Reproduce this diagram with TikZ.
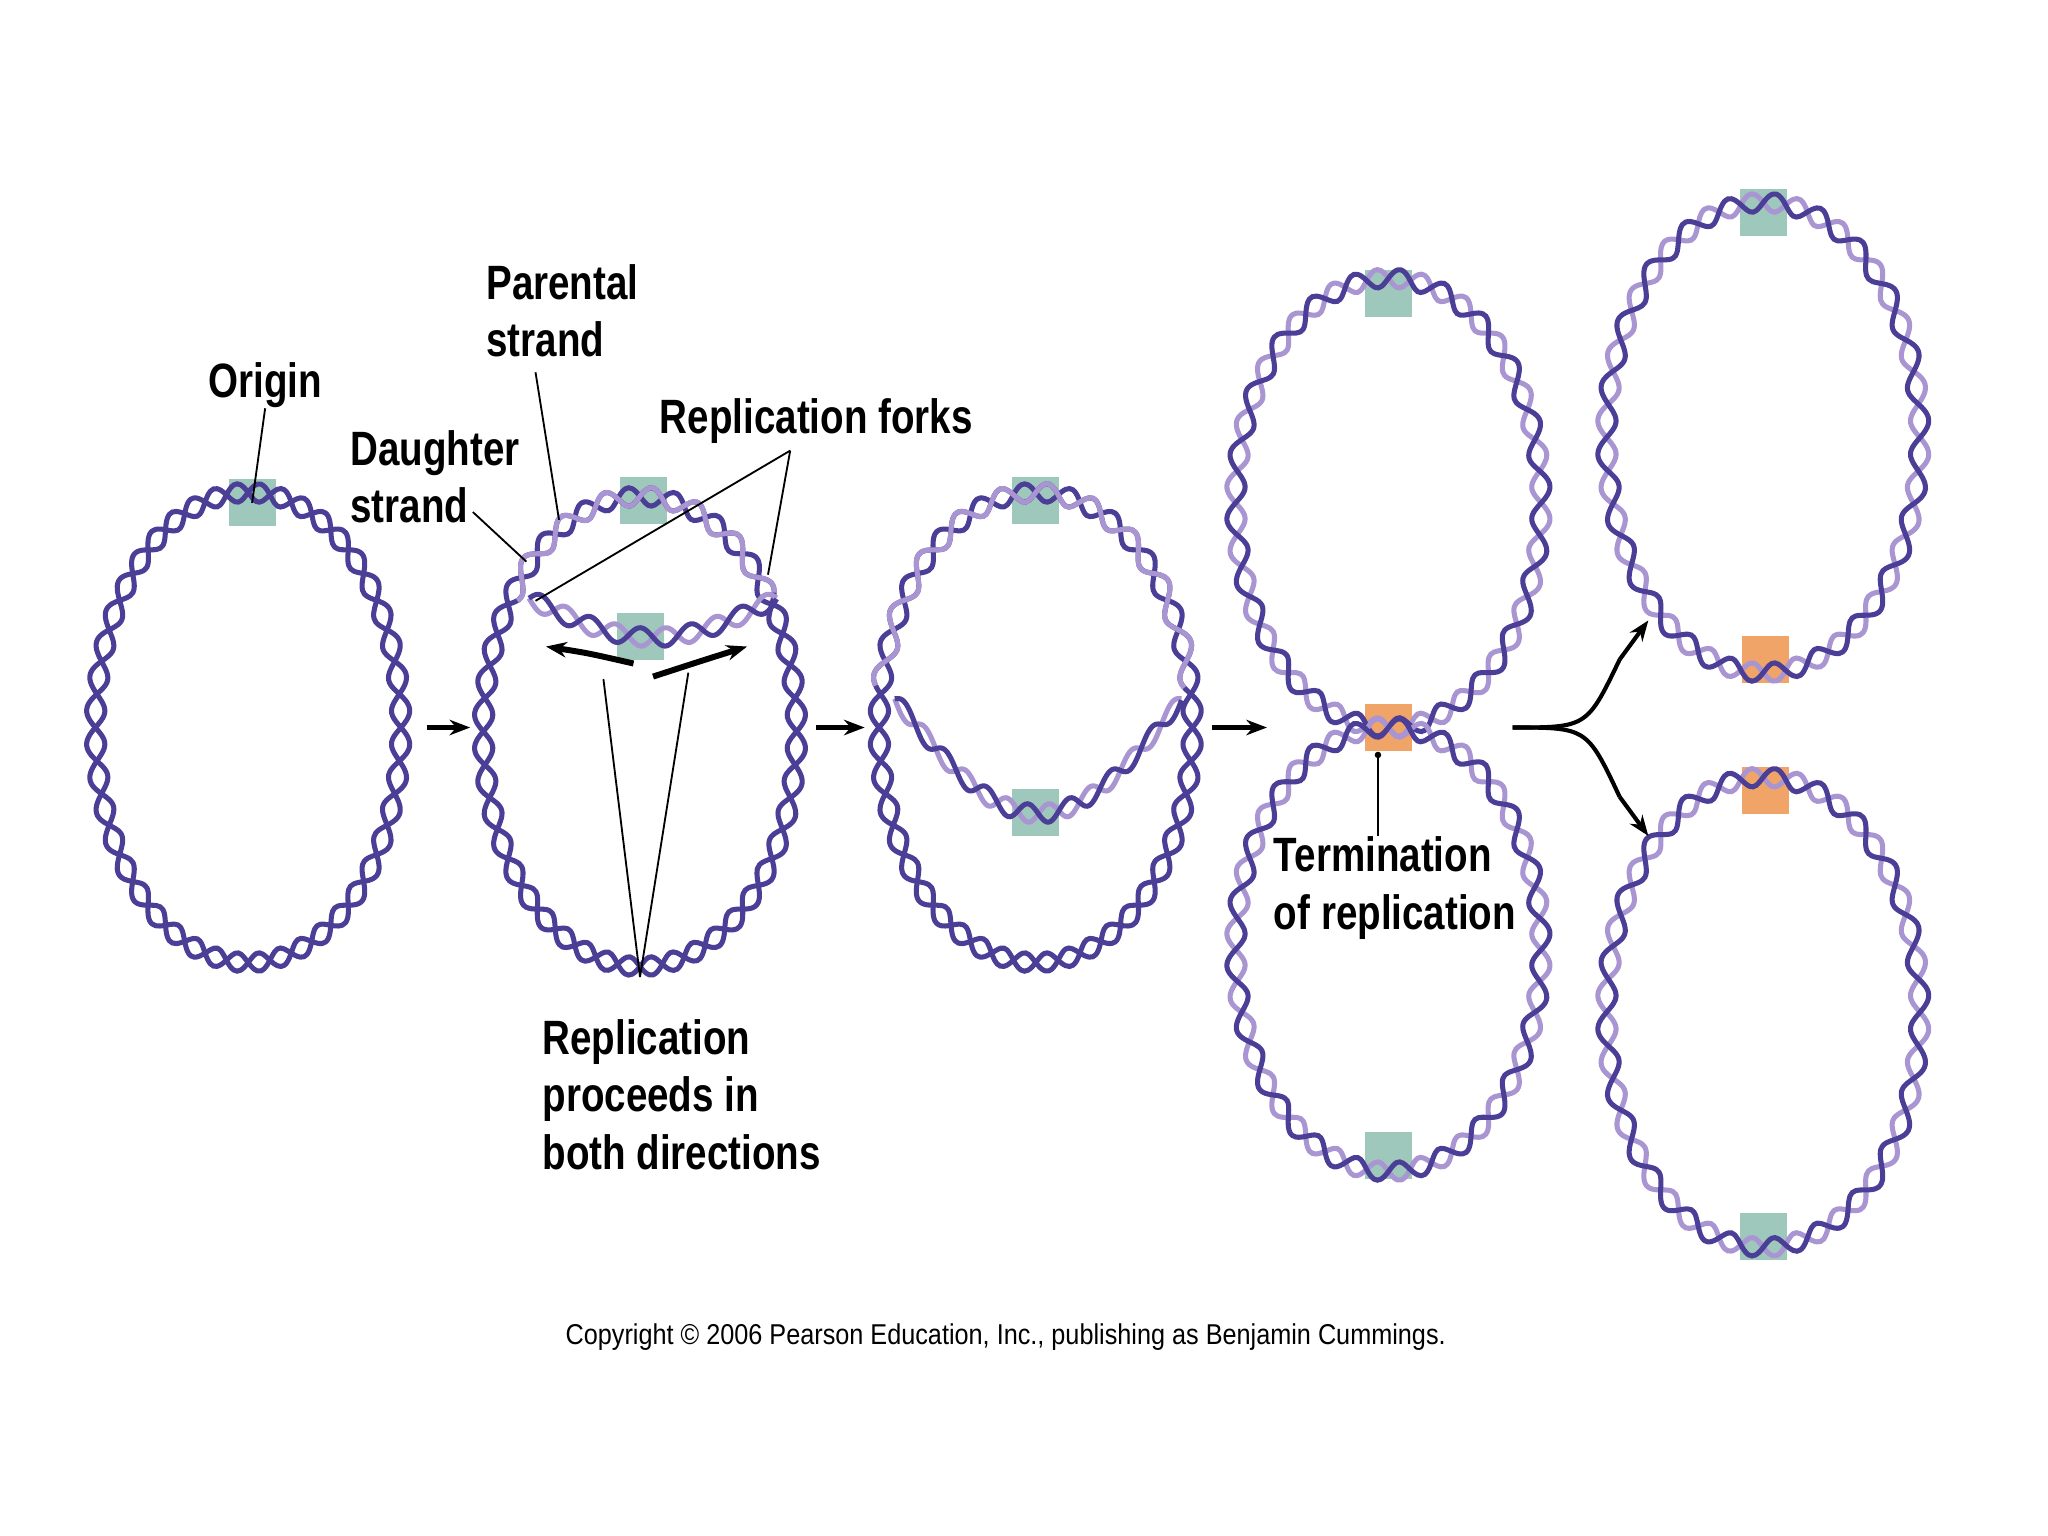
\documentclass[tikz,border=0pt]{standalone}
\usepackage{fontspec}
\usepackage{graphicx}
\setmainfont{Liberation Sans}
\usetikzlibrary{arrows.meta}
\definecolor{dk}{HTML}{4B3E96}
\definecolor{lt}{HTML}{A995D2}
\definecolor{tealbox}{HTML}{9FC8BC}
\definecolor{orbox}{HTML}{F0A468}
\newcommand\cz[1]{\scalebox{0.8}[1]{#1}}
% ellipse strand: cx cy rx ry sign color from to
\newcommand\estrand[8]{\draw[#6,line width=2.2pt,domain=#7:#8,samples=300,smooth,variable=\t] plot ({#1+(#3+#5*7*sin(22*\t))*cos(\t)},{#2+(#4+#5*7*sin(22*\t))*sin(\t)});}
% arc strand: x0 x1 y0 depth sign color periods
\newcommand\astrand[7]{\draw[#6,line width=2.2pt,domain=0:1,samples=150,smooth,variable=\t] plot ({#1+(#2-#1)*\t},{#3+#4*sin(180*\t)+#5*7*sin(#7*360*\t)});}
\newcommand\hcircle[6]{\estrand{#1}{#2}{#3}{#4}{1}{#5}{0}{360}\estrand{#1}{#2}{#3}{#4}{-1}{#6}{0}{360}}
\begin{document}
\begin{tikzpicture}[x=0.02cm,y=-0.02cm,
  lab/.style={font=\bfseries\fontsize{21}{25}\selectfont,align=left,inner sep=0pt},
  pt/.style={line width=0.8pt},
  arr/.style={-{Stealth[length=9pt]},line width=1.8pt},
  tb/.style={fill=tealbox,minimum width=0.72cm,minimum height=0.72cm,inner sep=0},
  ob/.style={fill=orbox,minimum width=0.72cm,minimum height=0.72cm,inner sep=0}]
\useasboundingbox[fill=white] (0,0) rectangle (1568,1176);
% boxes
\node[tb] (o1) at (193,385) {};
\node[tb] (o2a) at (493,383) {};
\node[tb] (o2b) at (490,487) {};
\node[tb] (o3a) at (793,383) {};
\node[tb] (o3b) at (793,622) {};
\node[tb] (o4a) at (1063,225) {};
\node[ob] (t4) at (1063,557) {};
\node[tb] (o4b) at (1063,885) {};
\node[tb] (o5a) at (1350,163) {};
\node[ob] (t5a) at (1352,505) {};
\node[ob] (t5b) at (1352,605) {};
\node[tb] (o5b) at (1350,947) {};
% circles
\hcircle{190}{557}{117}{180}{dk}{dk}
\hcircle{490}{560}{120}{180}{dk}{dk}
\estrand{490}{560}{120}{180}{-1}{lt}{215}{325}
\astrand{405}{595}{458}{30}{1}{lt}{5}
\astrand{405}{595}{458}{30}{-1}{dk}{5}
\hcircle{793}{557}{120}{180}{dk}{dk}
\estrand{793}{557}{120}{180}{-1}{lt}{190}{350}
\astrand{685}{905}{535}{88}{1}{lt}{7}
\astrand{685}{905}{535}{88}{-1}{dk}{7}
\hcircle{1063}{385}{117}{172}{lt}{dk}
\hcircle{1063}{727}{117}{170}{lt}{dk}
\hcircle{1350}{335}{120}{180}{lt}{dk}
\hcircle{1350}{775}{120}{180}{lt}{dk}
% arrows
\coordinate (a1) at (327,557); \coordinate (a2) at (360,557);
\coordinate (b1) at (625,557); \coordinate (b2) at (662,557);
\coordinate (c1) at (928,557); \coordinate (c2) at (970,557);
\draw[arr] (a1)--(a2); \draw[arr] (b1)--(b2); \draw[arr] (c1)--(c2);
\coordinate (s) at (1158,557); \coordinate (u) at (1262,475); \coordinate (d) at (1262,640);
\draw[line width=1.8pt] (s) .. controls (1215,557) .. (1240,505);
\draw[arr] (1240,505) -- (u);
\draw[line width=1.8pt] (s) .. controls (1215,557) .. (1240,610);
\draw[arr] (1240,610) -- (d);
\coordinate (l1) at (485,508); \coordinate (l2) at (418,495);
\coordinate (r1) at (500,518); \coordinate (r2) at (572,495);
\draw[arr,line width=2.6pt] (l1) .. controls (450,500) .. (l2);
\draw[arr,line width=2.6pt] (r1) .. controls (540,505) .. (r2);
% labels
\node[lab,anchor=center] (lo) at (203,295) {\cz{Origin}};
\draw[pt] (lo.south) -- (o1.center);
\node[lab,anchor=west] (lp) at (372,238) {\cz{Parental}\\\cz{strand}};
\coordinate (pp) at (428,398); \draw[pt] (410,285) -- (pp);
\node[lab,anchor=west] (ld) at (268,365) {\cz{Daughter}\\\cz{strand}};
\coordinate (dd) at (403,430); \draw[pt] (362,392) -- (dd);
\node[lab,anchor=center] (lf) at (625,322) {\cz{Replication forks}};
\coordinate (f1) at (410,460); \coordinate (f2) at (588,440);
\draw[pt] (605,345) -- (f1); \draw[pt] (605,345) -- (f2);
\node[lab,anchor=west] (lr) at (415,838) {\cz{Replication}\\\cz{proceeds in}\\\cz{both directions}};
\coordinate (q) at (490,748);
\draw[pt] (q) -- (462,520); \draw[pt] (q) -- (527,515);
\node[lab,anchor=west] (lt) at (975,680) {\cz{Termination}\\\cz{of replication}};
\coordinate (tt) at (1055,578);
\draw[pt] (1055,640) -- (tt); \fill (tt) circle (2.5);
\node[font=\fontsize{12.5}{14}\selectfont] (cp) at (770,1024) {\scalebox{0.88}[1]{Copyright © 2006 Pearson Education, Inc., publishing as Benjamin Cummings.}};
\end{tikzpicture}
\end{document}
